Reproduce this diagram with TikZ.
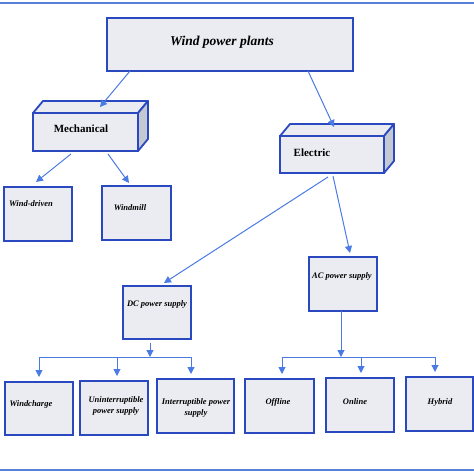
\documentclass[tikz,border=0pt]{standalone}
\usepackage{fontspec}
\setmainfont{Liberation Serif}
\usetikzlibrary{arrows.meta}

\definecolor{boxblue}{RGB}{42,72,192}
\definecolor{linkblue}{RGB}{74,122,228}
\definecolor{ruleblue}{RGB}{88,128,218}
\definecolor{boxgray}{RGB}{234,236,242}
\definecolor{sidegray}{RGB}{196,200,210}

\tikzset{
  item/.style={draw=boxblue, fill=boxgray, line width=1.8pt, outer sep=0pt, inner sep=0pt},
  face/.style={draw=boxblue, fill=boxgray, line width=1.8pt, line join=round},
  side/.style={draw=boxblue, fill=sidegray, line width=1.8pt, line join=round},
  link/.style={draw=linkblue, line width=1pt, -{Triangle[length=7pt,width=7pt]}},
  bar/.style={draw=linkblue, line width=1pt},
  rule/.style={draw=ruleblue, line width=2pt},
  head/.style={font=\fontsize{13.5}{16}\selectfont\bfseries\itshape, inner sep=0pt},
  group/.style={font=\fontsize{11}{13}\selectfont\bfseries, inner sep=0pt},
  txt/.style={font=\fontsize{8.5}{11}\selectfont\bfseries\itshape, inner sep=0pt, align=center},
}

\begin{document}
\begin{tikzpicture}[x=1pt,y=-1pt]
\useasboundingbox (0,0) rectangle (474,474);

\draw[rule] (0,3) -- (474,3);
\draw[rule] (0,470) -- (474,470);

% top
\node[item, minimum width=246pt, minimum height=53pt] (plants) at (230,44.5) {};
\node[head] (plants-t) at (222,42) {Wind power plants};

% mechanical / electric
\node[item, minimum width=105pt, minimum height=38pt] (mech) at (85.5,132) {};
\filldraw[face] (mech.north west) -- ++(10,-12) -- ++(105,0) -- (mech.north east) -- cycle;
\filldraw[side] (mech.north east) -- ++(10,-12) -- ++(0,38) -- (mech.south east) -- cycle;
\node[group] (mech-t) at (81,129) {Mechanical};

\node[item, minimum width=104pt, minimum height=37pt] (elec) at (332,154.5) {};
\filldraw[face] (elec.north west) -- ++(10,-12) -- ++(104,0) -- (elec.north east) -- cycle;
\filldraw[side] (elec.north east) -- ++(10,-12) -- ++(0,37) -- (elec.south east) -- cycle;
\node[group] (elec-t) at (312,153) {Electric};

% second level
\node[item, minimum width=68pt, minimum height=54pt] (wd) at (38,214) {};
\node[txt] (wd-t) at (31,204) {Wind-driven};
\node[item, minimum width=69pt, minimum height=54pt] (wm) at (136.5,213) {};
\node[txt] (wm-t) at (130,208) {Windmill};

\node[item, minimum width=68pt, minimum height=53pt] (dc) at (157,312.5) {};
\node[txt] (dc-t) at (157,304) {DC power supply};
\node[item, minimum width=68pt, minimum height=54pt] (ac) at (343,284) {};
\node[txt] (ac-t) at (342,276) {AC power supply};

% bottom row
\node[item, minimum width=68pt, minimum height=53pt] (wc) at (39,408.5) {};
\node[txt] (wc-t) at (31,404) {Windcharge};
\node[item, minimum width=68pt, minimum height=54pt] (ups) at (114,408) {};
\node[txt] (ups-t) at (116,406) {Uninterruptible\\power supply};
\node[item, minimum width=77pt, minimum height=54pt] (ips) at (195.5,406) {};
\node[txt] (ips-t) at (196,407.5) {Interruptible power\\supply};

\node[item, minimum width=69pt, minimum height=54pt] (off) at (279.5,406) {};
\node[txt] (off-t) at (278,402) {Offline};
\node[item, minimum width=68pt, minimum height=54pt] (on) at (360,405) {};
\node[txt] (on-t) at (355,402) {Online};
\node[item, minimum width=67pt, minimum height=54pt] (hyb) at (439.5,404) {};
\node[txt] (hyb-t) at (440,402) {Hybrid};

% connectors
\draw[link] ([xshift=23pt]plants.south west) -- ([xshift=67pt,yshift=6pt]mech.north west);
\draw[link] ([xshift=201pt]plants.south west) -- ([xshift=54pt,yshift=9pt]elec.north west);

\draw[link] ([xshift=38pt,yshift=-3pt]mech.south west) -- ([xshift=32pt,yshift=5pt]wd.north west);
\draw[link] ([xshift=75pt,yshift=-3pt]mech.south west) -- ([xshift=27pt,yshift=3pt]wm.north west);

\draw[link] ([xshift=48pt,yshift=-4pt]elec.south west) -- ([xshift=41pt,yshift=3pt]dc.north west);
\draw[link] ([xshift=53pt,yshift=-3pt]elec.south west) -- ([xshift=41pt,yshift=4pt]ac.north west);

\coordinate (dcb) at (150,357);
\draw[link] ([xshift=27pt,yshift=-4pt]dc.south west) -- (dcb);
\draw[link] (dcb) -| ([yshift=5pt]wc.north);
\draw[link] (dcb) -| ([xshift=3pt,yshift=5pt]ups.north);
\draw[link] (dcb) -| ([xshift=-4.5pt,yshift=5pt]ips.north);

\coordinate (acb) at (341,357);
\draw[link] ([xshift=32pt]ac.south west) -- (acb);
\draw[link] (acb) -| ([xshift=2.5pt,yshift=5pt]off.north);
\draw[link] (acb) -| ([xshift=1pt,yshift=5pt]on.north);
\draw[link] (acb) -| ([xshift=-4.5pt,yshift=5pt]hyb.north);

\end{tikzpicture}
\end{document}
